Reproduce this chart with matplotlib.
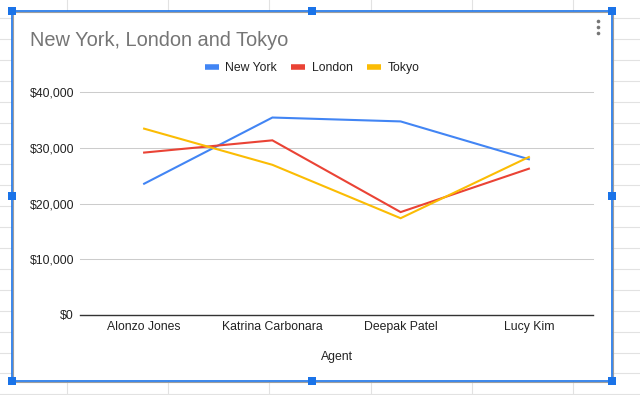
import matplotlib

matplotlib.use("Agg")
import matplotlib.pyplot as plt
import numpy as np
from matplotlib.lines import Line2D
from matplotlib.patches import Rectangle
from matplotlib.ticker import FuncFormatter

plt.rcParams["font.family"] = ["Liberation Sans", "DejaVu Sans"]

agents = ["Alonzo Jones", "Katrina Carbonara", "Deepak Patel", "Lucy Kim"]
new_york = [23600, 35500, 34800, 28000]
london = [29200, 31400, 18500, 26300]
tokyo = [33500, 27000, 17400, 28400]
series = [("New York", new_york, "#4285F4"),
          ("London", london, "#EA4335"),
          ("Tokyo", tokyo, "#FBBC04")]
y_ticks = [0, 10000, 20000, 30000, 40000]

W, H = 640, 395
fig = plt.figure(figsize=(W / 100, H / 100), dpi=100)

# spreadsheet backdrop, in pixel coordinates
bg = fig.add_axes([0, 0, 1, 1], zorder=0)
bg.set_xlim(0, W)
bg.set_ylim(H, 0)
bg.axis("off")
for x in np.arange(67, W, 101.2):
    bg.axvline(x, color="#e2e2e2", lw=0.8)
for y in np.arange(18.2, H, 20.9):
    bg.axhline(y, color="#e2e2e2", lw=0.8)

# chart card
bg.add_patch(Rectangle((12, 11), 600, 370, fc="white", ec="none", zorder=2))
bg.add_patch(Rectangle((13, 12), 600, 370, fc="none", ec="#9e9e9e", lw=0.8, zorder=2))
bg.add_patch(Rectangle((12, 11), 600, 370, fc="none", ec="#1a73e8", lw=1.2, zorder=3))
for hx, hy in [(12, 11), (312, 11), (612, 11), (12, 196), (612, 196),
               (12, 381), (312, 381), (612, 381)]:
    bg.add_patch(Rectangle((hx - 4, hy - 4), 8, 8, fc="#1a73e8", ec="none", zorder=4))
for dy in (21, 27, 33):
    bg.plot(597.5, dy, "o", ms=2.6, mew=0, color="#757575", zorder=4)

bg.text(30, 40, "New York, London and Tokyo", fontsize=14.4, color="#757575",
        ha="left", va="center", zorder=5)

# the line chart
ax = fig.add_axes([80 / W, (H - 315) / H, (593 - 80) / W, (315 - 92.5) / H], zorder=1)
ax.patch.set_alpha(0)
for name, vals, c in series:
    ax.plot(agents, vals, color=c, lw=1.5, solid_joinstyle="miter", zorder=3)

ax.set_xlim(-0.5, len(agents) - 0.5)
ax.set_ylim(0, 40000)
ax.set_yticks(y_ticks)
ax.yaxis.set_major_formatter(FuncFormatter(lambda v, _: f"${v:,.0f}"))
ax.grid(axis="y", color="#cccccc", lw=0.75)
for gl in ax.get_ygridlines():
    gl.set_clip_on(False)
ax.axhline(0, color="#333333", lw=1, zorder=2, clip_on=False)
for s in ax.spines.values():
    s.set_visible(False)
ax.tick_params(length=0, labelsize=8.8, labelcolor="#222222")
ax.tick_params(axis="y", pad=4.3)
ax.tick_params(axis="x", pad=4.5)
ax.set_xlabel("Agent", fontsize=8.8, color="#222222", labelpad=13)

handles = [Line2D([], [], color=c, lw=4, solid_capstyle="butt") for _, _, c in series]
fig.legend(handles, [n for n, _, _ in series], loc="center", bbox_to_anchor=(312 / W, 1 - 68 / H),
           ncol=3, frameon=False, fontsize=8.8, handlelength=1.15, handletextpad=0.5,
           columnspacing=1.2, labelcolor="#222222")

fig.savefig("out.png", dpi=100)
